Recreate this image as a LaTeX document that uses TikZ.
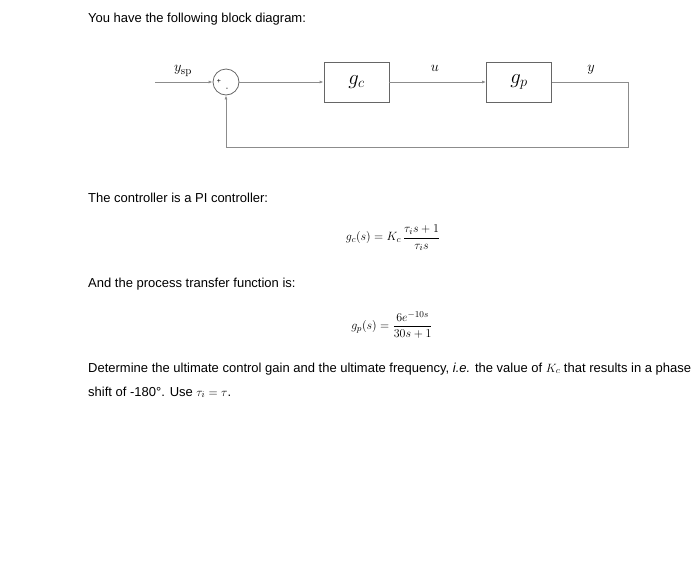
\documentclass[tikz,border=0pt]{standalone}
\usepackage{amsmath}
\usepackage[no-math]{fontspec}
\setmainfont{Liberation Sans}
\usetikzlibrary{arrows.meta}

\begin{document}
\begin{tikzpicture}[x=1pt, y=-1pt,
  every node/.style={inner sep=0pt},
  block/.style={draw=gray!80!black, line width=0.8pt, minimum width=65pt, minimum height=40pt},
  wire/.style={draw=gray!90, line width=1pt},
  arr/.style={wire, -{Latex[length=4pt,width=3pt]}},
  txt/.style={anchor=base west, font=\fontsize{13}{15}\selectfont},
  sig/.style={font=\fontsize{15}{17}\selectfont}]
  \useasboundingbox (0,0) rectangle (700,566);
  % heading
  \node (t1) [txt] at (88,22) {You have the following block diagram:};
  % block diagram
  \coordinate (in) at (155,82);
  \node (sum) [circle, draw=gray!80!black, line width=0.8pt, minimum size=26pt] at (226,82) {};
  \node (plus) [font=\scriptsize] at (219,81) {+};
  \node (minus) [font=\scriptsize] at (227,89) {-};
  \node (gc) [block, font=\fontsize{22}{24}\selectfont] at (356.5,82) {$g_c$};
  \node (gp) [block, font=\fontsize{22}{24}\selectfont] at (519,82) {$g_p$};
  \coordinate (out) at (628,82);
  \coordinate (c1) at (628,147);
  \coordinate (c2) at (226,147);
  \node (ysp) [sig] at (183,71) {$y_{\mathrm{sp}}$};
  \node (u) [sig] at (435,68) {$u$};
  \node (y) [sig] at (591,70) {$y$};
  \draw [arr] (in) -- (sum);
  \draw [arr] (sum) -- (gc);
  \draw [arr] (gc) -- (gp);
  \draw [wire] (gp) -- (out) -- (c1) -- (c2);
  \draw [arr] (c2) -- (sum);
  % controller
  \node (t2) [txt] at (88,202) {The controller is a PI controller:};
  \node (eqc) [font=\fontsize{13}{15}\selectfont] at (393,238)
    {$g_c(s) = K_c\,\dfrac{\tau_i s+1}{\tau_i s}$};
  % process
  \node (t3) [txt] at (88,287) {And the process transfer function is:};
  \node (eqp) [font=\fontsize{13}{15}\selectfont] at (392,325)
    {$g_p(s) = \dfrac{6e^{-10s}}{30s+1}$};
  % question
  \node (t4) [txt] at (88,372) {Determine the ultimate control gain and the ultimate frequency, \textit{i.e.} the value of $K_c$ that results in a phase};
  \node (t5) [txt] at (88,396) {shift of -180°. Use $\tau_i = \tau$.};
\end{tikzpicture}
\end{document}
